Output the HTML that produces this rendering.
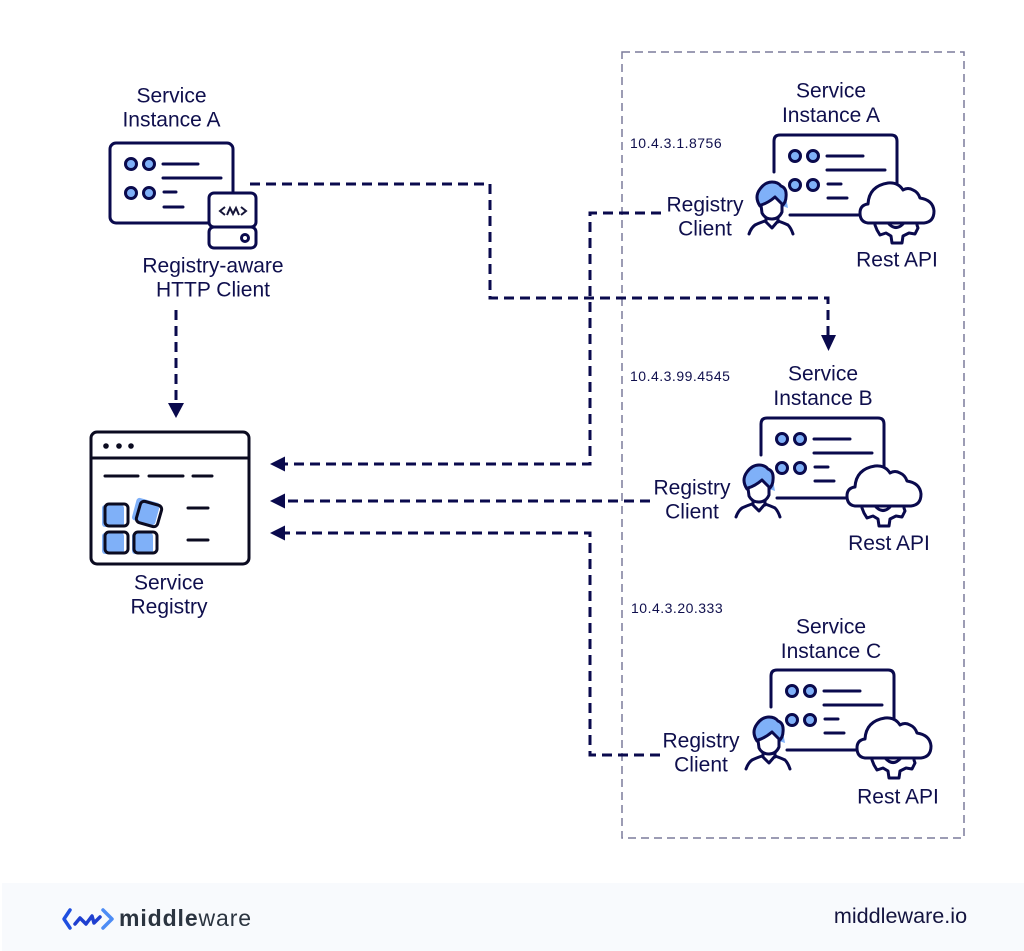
<!DOCTYPE html>
<html><head><meta charset="utf-8"><style>
html,body{margin:0;padding:0;background:#fff}
svg{display:block}
text{font-family:"Liberation Sans",sans-serif;fill:#0f0f4d;font-size:21px;text-anchor:middle}
.ip{font-size:14px;letter-spacing:.5px;text-anchor:start}
.i{fill:none;stroke:#0a0a4d;stroke-width:3;stroke-linecap:round;stroke-linejoin:round}
.d{fill:none;stroke:#0a0a4d;stroke-width:3;stroke-dasharray:10 6}
.c{fill:#7fb0f8;stroke:#0a0a4d;stroke-width:3}
</style></head><body>
<svg width="1024" height="951" viewBox="0 0 1024 951" xmlns="http://www.w3.org/2000/svg">
<defs>
<g id="inst">
<path class="i" d="M774 172V141q0-6 6-6H891q6 0 6 6V186M790 215H860"/>
<circle class="c" cx="795" cy="156" r="5.500"/><circle class="c" cx="813" cy="156" r="5.500"/>
<circle class="c" cx="795" cy="185" r="5.500"/><circle class="c" cx="813" cy="185" r="5.500"/>
<path class="i" d="M827 156H863M827 170H885M828 184H841M828 198H847"/>
<path d="M760 206Q754 197 760 189 765 182 772 182 778 182 781 186 787 188 786 197L788 208 782 206 770 206Z" fill="#7fb0f8"/>
<path d="M761 205Q768 203 775 197 778 200 782 204V212Q779 220 772 220 765 220 762 213Z" fill="#fff"/>
<path class="i" d="M760 206Q754 197 760 189 765 182 772 182 778 182 781 186 787 188 786 197 786 202 782 206M761 205Q768 203 775 197 778 200 782 204V212Q779 219 772 219 765 219 762 213ZM766 218V222M778 218V222M749 234Q751 228 755 225 759 223 765 221L772 228 778 221Q784 223 788 225 791 228 793 234"/>
<path d="M868 223Q860 222 860 213 860 205 868 204 869 186 888 183 898 182 903 190 908 187 913 190 918 192 920 198 933 200 934 211 934 222 924 223Z" fill="#fff" stroke="#0a0a4d" stroke-width="3" stroke-linejoin="round"/>
<path class="i" d="M875 225L877 230 880 235 886 233 891 236 892 243H902L903 236 909 233 915 234 918 228 917 225M889 224Q896 231 903 224"/>
</g>
<g id="ar"><path d="M270 0L285-7.500V7.500Z" fill="#0a0a4d"/></g>
</defs>

<rect x="622" y="52" width="342" height="786" fill="none" stroke="#7c7c9c" stroke-width="1.500" stroke-dasharray="8 5"/>

<!-- connectors -->
<path class="d" d="M250 184H490V298H828V336"/>
<path d="M821 335H836L828.500 351Z" fill="#0a0a4d"/>
<path class="d" d="M176 310V403"/>
<path d="M168 403H184L176 418Z" fill="#0a0a4d"/>
<path class="d" d="M661 213H590V464H285"/>
<path class="d" d="M650 501H285"/>
<path class="d" d="M660 755H590V533H285"/>
<use href="#ar" y="464"/><use href="#ar" y="501"/><use href="#ar" y="533"/>

<!-- client A -->
<text x="171.500" y="102.500">Service</text><text x="171.500" y="126.500">Instance A</text>
<rect class="i" x="110" y="143" width="123" height="80" rx="6"/>
<circle class="c" cx="131" cy="164" r="5.500"/><circle class="c" cx="149" cy="164" r="5.500"/>
<circle class="c" cx="131" cy="193" r="5.500"/><circle class="c" cx="149" cy="193" r="5.500"/>
<path class="i" d="M163 164H198M163 178H221M164 192H176M164 207H183"/>
<rect x="209" y="193" width="47" height="34" rx="5" fill="#fff" stroke="#0a0a4d" stroke-width="3"/>
<rect x="209" y="227" width="47" height="21" rx="5" fill="#fff" stroke="#0a0a4d" stroke-width="3"/>
<circle cx="245" cy="238" r="3.500" fill="#fff" stroke="#0a0a4d" stroke-width="3"/>
<path d="M225 207L220 211 225 215M241 207L246 211 241 215M227 215L230 208 233 214 236 208 239 215" fill="none" stroke="#16163a" stroke-width="2"/>
<text x="213" y="272.500">Registry-aware</text><text x="213" y="296.500">HTTP Client</text>

<!-- registry -->
<rect class="i" x="91" y="432" width="158" height="132" rx="6" style="stroke:#0b0b20"/>
<path class="i" style="stroke:#0b0b20" d="M91 458H249M105 476H138M149 476H183M193 476H212M188 508H208M188 540H208"/>
<circle cx="106" cy="446" r="2.800" fill="#0b0b20"/><circle cx="119" cy="446" r="2.800" fill="#0b0b20"/><circle cx="131" cy="446" r="2.800" fill="#0b0b20"/>
<rect x="102" y="505" width="22" height="22" rx="3" fill="#7fb0f8"/>
<rect x="102" y="533" width="22" height="21" rx="3" fill="#7fb0f8"/>
<rect x="132" y="533" width="21" height="21" rx="3" fill="#7fb0f8"/>
<rect x="134" y="500" width="24" height="23" rx="3" fill="#7fb0f8" transform="rotate(15 146 511)"/>
<g fill="none" stroke="#0b0b20" stroke-width="3">
<rect x="105" y="504" width="23" height="22" rx="4"/>
<rect x="105" y="532" width="23" height="21" rx="4"/>
<rect x="134" y="532" width="23" height="21" rx="4"/>
<rect x="138" y="503" width="22" height="22" rx="4" transform="rotate(16 149 514)"/>
</g>
<text x="169" y="589.500">Service</text><text x="169" y="613.500">Registry</text>

<!-- instances -->
<use href="#inst"/>
<use href="#inst" x="-13" y="283"/>
<use href="#inst" x="-3" y="535"/>

<text x="831" y="97.500">Service</text><text x="831" y="122">Instance A</text>
<text x="823" y="380.500">Service</text><text x="823" y="405">Instance B</text>
<text x="831" y="633.500">Service</text><text x="831" y="658">Instance C</text>
<text x="705" y="211.500">Registry</text><text x="705" y="235.500">Client</text>
<text x="692" y="494.500">Registry</text><text x="692" y="518.500">Client</text>
<text x="701" y="747.500">Registry</text><text x="701" y="771.500">Client</text>
<text x="897" y="266.500">Rest API</text>
<text x="889" y="550">Rest API</text>
<text x="898" y="803.500">Rest API</text>
<text class="ip" x="630" y="148">10.4.3.1.8756</text>
<text class="ip" x="630" y="381">10.4.3.99.4545</text>
<text class="ip" x="631" y="613">10.4.3.20.333</text>

<!-- footer -->
<rect x="2" y="883" width="1022" height="68" fill="#f8fafd"/>
<path d="M70 910L64 919 70 928" fill="none" stroke="#1f4fe0" stroke-width="3.500" stroke-linecap="round" stroke-linejoin="round"/>
<path d="M103 910L112 919 103 928" fill="none" stroke="#4d8cf5" stroke-width="3.500" stroke-linecap="round" stroke-linejoin="round"/>
<path d="M75 924L80 918 86 924 92 916 94 923 100 917" fill="none" stroke="#1f3fd0" stroke-width="3.500" stroke-linecap="round" stroke-linejoin="round"/>
<text x="119" y="926" style="text-anchor:start;font-size:23px;letter-spacing:.9px;fill:#2b3440"><tspan font-weight="bold">middle</tspan><tspan>ware</tspan></text>
<text x="900.500" y="923" style="font-size:21.600px;fill:#14143f">middleware.io</text>
</svg>
</body></html>
